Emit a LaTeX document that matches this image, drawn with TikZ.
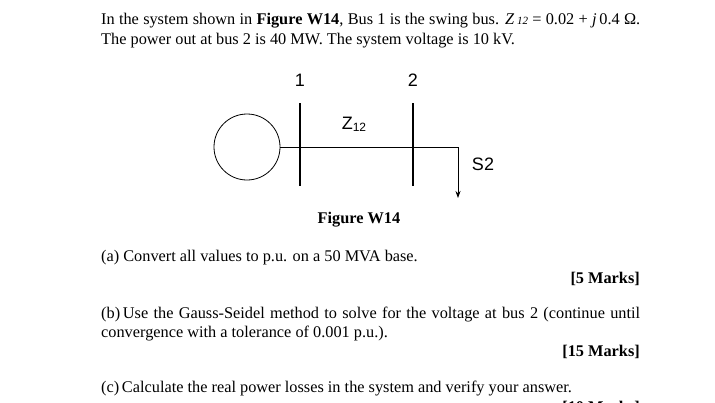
\documentclass[tikz,border=0pt]{standalone}
\usepackage{fontspec}
\usetikzlibrary{arrows.meta}
\setmainfont{Liberation Serif}
\newfontfamily\arial{Liberation Sans}
\begin{document}
\begin{tikzpicture}[x=1pt,y=-1pt,
  txt/.style={anchor=base west,inner sep=0pt,font=\fontsize{16.3}{19}\selectfont},
  rtxt/.style={anchor=base east,inner sep=0pt,font=\fontsize{16.3}{19}\selectfont\bfseries},
  lab/.style={inner sep=0pt,font=\arial\fontsize{18}{20}\selectfont},
  bus/.style={line width=1.6pt}]
\useasboundingbox (0,0) rectangle (715,402);
\fill[white] (0,0) rectangle (715,402);
\node[txt] (l1) at (101,24) {\makebox[539pt][s]{In the system shown in \textbf{Figure W14}, Bus 1 is the swing bus. \textit{Z}\,{\fontsize{11}{11}\selectfont\textit{12}} = 0.02 + \textit{j}\,0.4 Ω.}};
\node[txt] (l2) at (101,44) {The power out at bus 2 is 40 MW. The system voltage is 10 kV.};
% diagram
\node[draw,circle,minimum size=66pt,inner sep=0pt,line width=0.8pt] (g) at (247,147) {};
\coordinate (b1t) at (300,103); \coordinate (b1b) at (300,186);
\coordinate (b2t) at (413,103); \coordinate (b2b) at (413,186);
\draw[bus] (b1t) -- (b1b);
\draw[bus] (b2t) -- (b2b);
\coordinate (le) at (458,147);
\coordinate (ae) at (458,198);
\draw[line width=0.8pt] (g.east) -- (le);
\draw[line width=0.8pt,-{Stealth[length=7pt,width=5pt]}] (le) -- (ae);
\node[lab] (n1) at (300,80) {1};
\node[lab] (n2) at (413,80) {2};
\node[lab] (z) at (354,124) {Z{\fontsize{12}{12}\selectfont\raisebox{-2pt}{12}}};
\node[lab] (s2) at (483,164) {S2};
\node[anchor=base,inner sep=0pt,font=\fontsize{16.3}{19}\selectfont\bfseries] (fig) at (359,223) {Figure W14};
\node[txt] (a) at (101,261) {(a) Convert all values to p.u. on a 50 MVA base.};
\node[rtxt] (m5) at (640,283) {[5 Marks]};
\node[txt] (b1) at (101,318) {\makebox[539pt][s]{(b)\,Use the Gauss-Seidel method to solve for the voltage at bus 2 (continue until}};
\node[txt] (b2) at (101,337) {convergence with a tolerance of 0.001 p.u.).};
\node[rtxt] (m15) at (640,356) {[15 Marks]};
\node[txt] (c) at (101,392) {(c)\,Calculate the real power losses in the system and verify your answer.};
\node[rtxt] (m10) at (640,412) {[10 Marks]};
\end{tikzpicture}
\end{document}
